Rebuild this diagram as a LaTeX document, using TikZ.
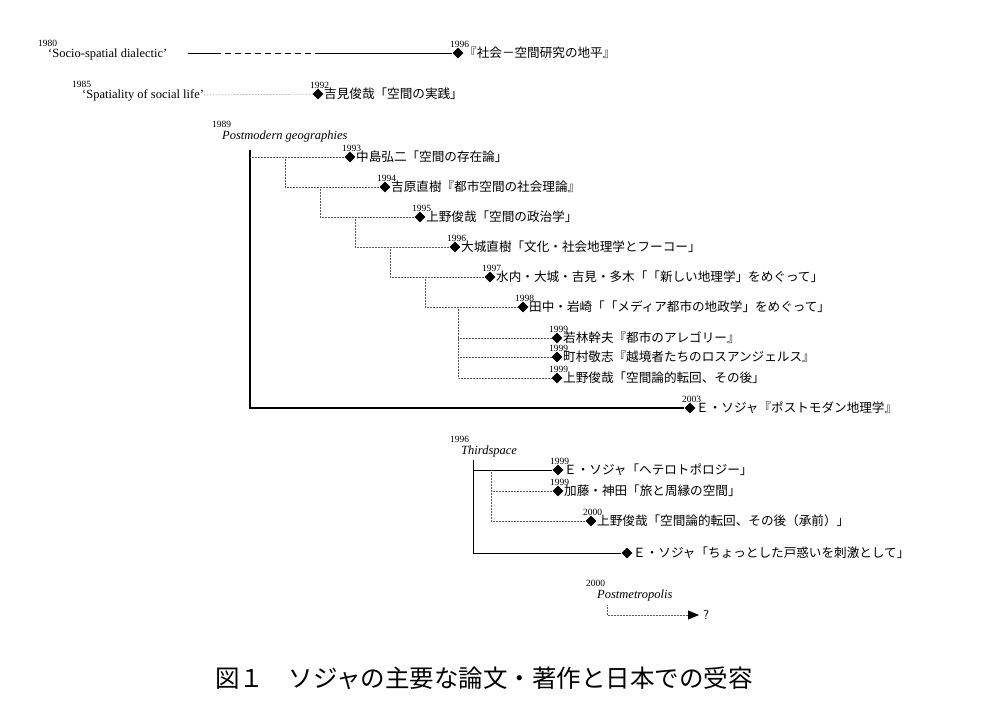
\documentclass[tikz,border=0pt]{standalone}
\usepackage{fontspec}
\setmainfont{Liberation Serif}
\newfontfamily\cjk{Noto Sans CJK JP}
\usetikzlibrary{shapes.geometric,arrows.meta}
\newcommand\myentry[5]{% name, x, y, year, text
  \node[dia] (#1) at (#2,#3) {};
  \node[yr] (#1y) at (#2-8,#3-5) {#4};
  \node[jp] (#1t) at (#2+6,#3) {#5};}
\begin{document}
\begin{tikzpicture}[x=1pt,y=-1pt,
  dia/.style={diamond,fill=black,inner sep=0pt,minimum size=11pt},
  yr/.style={font=\fontsize{9.5}{10}\selectfont,inner sep=0pt,anchor=south west},
  jp/.style={font=\cjk\fontsize{12.6}{14}\selectfont,inner sep=0pt,anchor=west},
  en/.style={font=\fontsize{12.5}{13}\selectfont,inner sep=0pt},
  dot/.style={densely dotted,line width=0.5pt,gray!70!black},
  thick2/.style={line width=1.4pt}]
\useasboundingbox (0,0) rectangle (988,721);
% row 1
\node[yr] (y80) at (38,47) {1980};
\node[en,anchor=west] (sd) at (48,54) {`Socio-spatial dialectic'};
\myentry{a1}{458}{53}{1996}{『社会－空間研究の地平』}
\coordinate (k0) at (188,53); \coordinate (k1) at (215,53); \coordinate (k2) at (320,53);
\draw[line width=0.6pt] (k0) -- (k1);
\draw[line width=0.8pt,dash pattern=on 6pt off 4pt] (k1) -- (k2);
\draw[line width=1pt] (k2) -- (a1);
% row 2
\node[yr] (y85) at (72,88) {1985};
\node[en,anchor=west] (ss) at (82,95) {`Spatiality of social life'};
\myentry{a2}{318}{94}{1992}{吉見俊哉「空間の実践」}
\draw[dot] (ss.east) -- (a2);
% Postmodern
\node[yr] (y89) at (212,128) {1989};
\node[en,anchor=west,font=\itshape\fontsize{12.5}{13}\selectfont] (pg) at (222,136) {Postmodern geographies};
\myentry{b1}{350}{157}{1993}{中島弘二「空間の存在論」}
\myentry{b2}{385}{187}{1994}{吉原直樹『都市空間の社会理論』}
\myentry{b3}{420}{217}{1995}{上野俊哉「空間の政治学」}
\myentry{b4}{455}{247}{1996}{大城直樹「文化・社会地理学とフーコー」}
\myentry{b5}{490}{277}{1997}{水内・大城・吉見・多木「「新しい地理学」をめぐって」}
\myentry{b6}{523}{307}{1998}{田中・岩崎「「メディア都市の地政学」をめぐって」}
\myentry{b7}{557}{338}{1999}{若林幹夫『都市のアレゴリー』}
\myentry{b8}{557}{357}{1999}{町村敬志『越境者たちのロスアンジェルス』}
\myentry{b9}{557}{378}{1999}{上野俊哉「空間論的転回、その後」}
\myentry{b10}{690}{408}{2003}{Ｅ・ソジャ『ポストモダン地理学』}
\coordinate (p0) at (250,150);
\draw[thick2] (p0) |- (b10);
\draw[dot] (250,157) -- (b1);
\draw[dot] (285,157) |- (b2);
\draw[dot] (320,187) |- (b3);
\draw[dot] (355,217) |- (b4);
\draw[dot] (390,247) |- (b5);
\draw[dot] (425,277) |- (b6);
\draw[dot] (458,307) |- (b9);
\draw[dot] (458,338) -- (b7);
\draw[dot] (458,357) -- (b8);
% Thirdspace
\node[yr] (y96) at (450,443) {1996};
\node[en,anchor=west,font=\itshape\fontsize{12.5}{13}\selectfont] (ts) at (461,451) {Thirdspace};
\myentry{c1n}{558}{470}{1999}{Ｅ・ソジャ「ヘテロトポロジー」}
\myentry{c2n}{558}{491}{1999}{加藤・神田「旅と周縁の空間」}
\myentry{c3n}{591}{521}{2000}{上野俊哉「空間論的転回、その後（承前）」}
\node[dia] (c4n) at (627,553) {};
\node[jp] (c4t) at (633,553) {Ｅ・ソジャ「ちょっとした戸惑いを刺激として」};
\draw[line width=1pt] (473,460) |- (c4n);
\draw[line width=1pt] (473,470) -- (c1n);
\draw[dot] (491,470) |- (c3n);
\draw[dot] (491,491) -- (c2n);
% Postmetropolis
\node[yr] (y00) at (586,587) {2000};
\node[en,anchor=west,font=\itshape\fontsize{12.5}{13}\selectfont] (pm) at (597,595) {Postmetropolis};
\node[isosceles triangle,fill=black,inner sep=0pt,minimum height=10pt,minimum width=9pt,anchor=west] (tri) at (688,615) {};
\node[jp,font=\fontsize{13}{14}\selectfont\sffamily] (q) at (703,615) {?};
\draw[dot] (607,605) |- (tri.west);
% caption
\node[font=\cjk\fontsize{24.5}{26}\selectfont] (cap) at (484,678) {図１　ソジャの主要な論文・著作と日本での受容};
\end{tikzpicture}
\end{document}
